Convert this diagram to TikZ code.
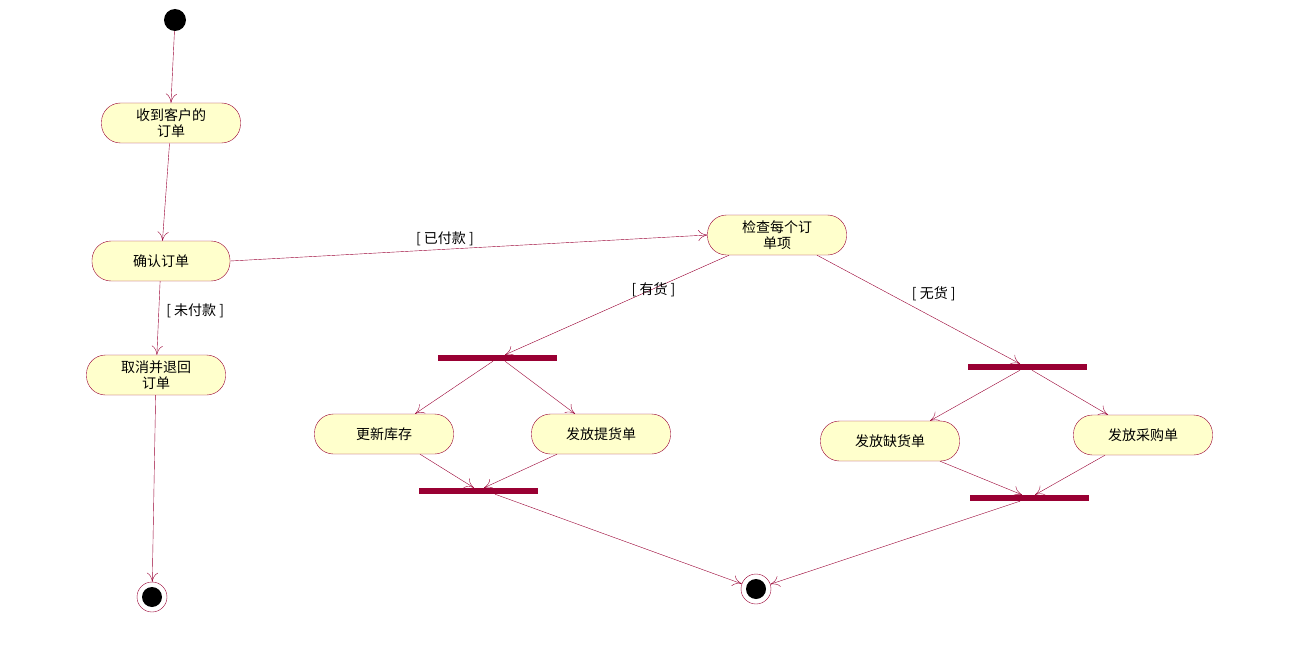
\documentclass[tikz,border=0pt]{standalone}
\usepackage{fontspec}
\newfontfamily\cjk{Noto Sans CJK SC}
\usetikzlibrary{arrows.meta}
\definecolor{ln}{HTML}{990033}
\definecolor{fl}{HTML}{FFFFCC}
\begin{document}
\begin{tikzpicture}[x=1pt,y=-1pt,
 act/.style={draw=ln,fill=fl,rounded corners=19pt,minimum width=139pt,minimum height=40pt,align=center,font=\cjk\fontsize{14}{16}\selectfont,inner sep=1pt},
 bar/.style={fill=ln,minimum width=119pt,minimum height=6pt,inner sep=0pt},
 ar/.style={draw=ln,-{To[length=9pt,width=11pt]}},
 lb/.style={font=\cjk\fontsize{14}{16}\selectfont}]
\useasboundingbox (0,0) rectangle (1291,650);
\node[circle,fill=black,minimum size=22pt,inner sep=0] (s) at (175,20) {};
\node[act] (n1) at (171,123) {收到客户的\\订单};
\node[act,minimum width=138pt] (n2) at (161,261) {确认订单};
\node[act] (n3) at (156,375) {取消并退回\\订单};
\node[circle,draw=ln,fill=white,minimum size=30pt,inner sep=0] (e1) at (152,597) {};
\node[circle,fill=black,minimum size=20pt,inner sep=0] at (e1) {};
\node[act] (n4) at (777,235) {检查每个订\\单项};
\node[bar] (b1) at (497,358) {};
\node[act] (n5) at (384,434) {更新库存};
\node[act] (n6) at (601,434) {发放提货单};
\node[bar] (b2) at (478,491) {};
\node[circle,draw=ln,fill=white,minimum size=30pt,inner sep=0] (e2) at (756,589) {};
\node[circle,fill=black,minimum size=20pt,inner sep=0] at (e2) {};
\node[bar] (b3) at (1027,367) {};
\node[act] (n7) at (890,441) {发放缺货单};
\node[act] (n8) at (1143,435) {发放采购单};
\node[bar] (b4) at (1029,498) {};
\draw[ar] (s) -- (n1.north);
\draw[ar] (n1) -- (n2);
\draw[ar] (n2) -- node[lb,right=4pt,pos=0.4]{[ 未付款 ]} (n3);
\draw[ar] (n3) -- (e1);
\draw[ar] (n2.east) -- node[lb,above,pos=0.45]{[ 已付款 ]} (n4.west);
\draw[ar] ([xshift=-48pt]n4.south) -- node[lb,above right,pos=0.45]{[ 有货 ]} ([xshift=8pt]b1.north);
\draw[ar] ([xshift=40pt]n4.south) -- node[lb,above right,pos=0.45]{[ 无货 ]} ([xshift=-7pt]b3.north);
\draw[ar] ([xshift=-4pt]b1.south) -- ([xshift=31pt]n5.north);
\draw[ar] ([xshift=8pt]b1.south) -- ([xshift=-26pt]n6.north);
\draw[ar] ([xshift=36pt]n5.south) -- ([xshift=-4pt]b2.north);
\draw[ar] ([xshift=-44pt]n6.south) -- ([xshift=6pt]b2.north);
\draw[ar] ([xshift=17pt]b2.south) -- (e2);
\draw[ar] ([xshift=-7pt]b3.south) -- ([xshift=40pt]n7.north);
\draw[ar] ([xshift=5pt]b3.south) -- ([xshift=-35pt]n8.north);
\draw[ar] ([xshift=50pt]n7.south) -- ([xshift=-7pt]b4.north);
\draw[ar] ([xshift=-38pt]n8.south) -- ([xshift=6pt]b4.north);
\draw[ar] ([xshift=-9pt]b4.south) -- (e2);
\end{tikzpicture}
\end{document}
